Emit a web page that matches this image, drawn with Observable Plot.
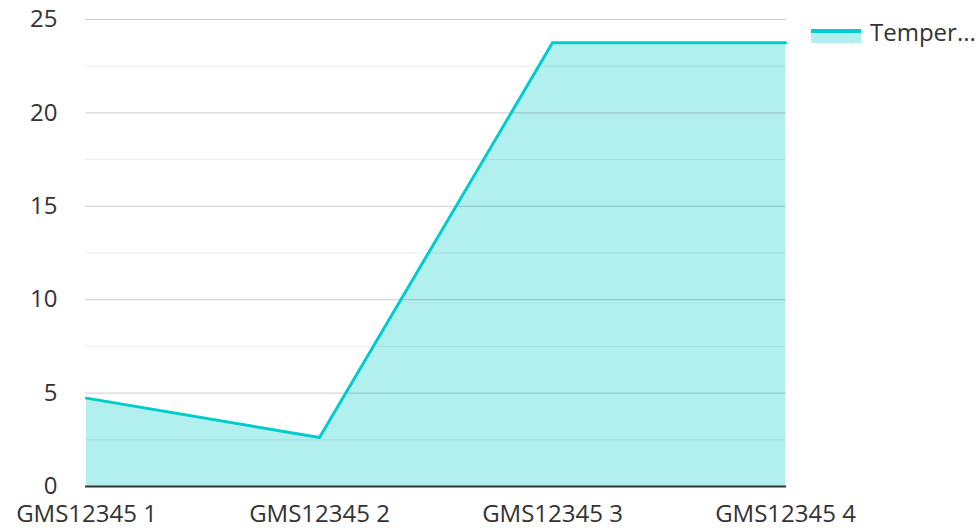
<!DOCTYPE html>
<html>
<head>
<meta charset="utf-8">
<script src="https://cdn.jsdelivr.net/npm/d3@7"></script>
<script src="https://cdn.jsdelivr.net/npm/@observablehq/plot@0.6"></script>
<style>
  html, body { margin: 0; padding: 0; background: #fff; }
  #wrap { position: relative; width: 976px; height: 528px; font-family: "Open Sans", sans-serif; }
  #legend .sw { position: absolute; left: 811px; top: 29px; width: 50px; height: 14px; background: rgba(0,204,204,0.3); }
  #legend .sw::before { content: ""; position: absolute; left: 0; right: 0; top: 0; height: 3.5px; background: #00cccc; }
  #legend .lb { position: absolute; left: 870px; top: 20px; font-size: 24px; line-height: 24px; color: #333; white-space: nowrap; }
  #chart svg text { fill: #333; }
</style>
</head>
<body>
<div id="wrap">
  <div id="chart"></div>
  <div id="legend"><div class="sw"></div><span class="lb">Temper...</span></div>
</div>
<script>
const categories = ["GMS12345 1", "GMS12345 2", "GMS12345 3", "GMS12345 4"];
const temperature = [4.73, 2.62, 23.75, 23.75];
const yTicks = [0, 5, 10, 15, 20, 25];
const majorTicks = [5, 10, 15, 20, 25];
const minorTicks = [2.5, 7.5, 12.5, 17.5, 22.5];
const seriesName = "Temperature";

const data = categories.map((c, i) => ({ cat: c, value: temperature[i] }));

const chart = Plot.plot({
  width: 976,
  height: 528,
  marginLeft: 85,
  marginRight: 190,
  marginTop: 19,
  marginBottom: 42,
  style: { fontFamily: "Open Sans, sans-serif", fontSize: "24px", color: "#333", background: "transparent" },
  x: { type: "point", domain: categories, padding: 0, label: null },
  y: { domain: [0, 25], label: null },
  marks: [
    Plot.areaY(data, { x: "cat", y: "value", fill: "#00cccc", fillOpacity: 0.3 }),
    Plot.ruleY(minorTicks, { stroke: "#000", strokeOpacity: 0.08 }),
    Plot.ruleY(majorTicks, { stroke: "#000", strokeOpacity: 0.2 }),
    Plot.lineY(data, { x: "cat", y: "value", stroke: "#00cccc", strokeWidth: 3 }),
    Plot.ruleY([0], { stroke: "#333", strokeWidth: 2 }),
    Plot.axisX({ tickSize: 0, tickPadding: 18, fontSize: 24, label: null }),
    Plot.axisY({ ticks: yTicks, tickFormat: d3.format("d"), tickSize: 0, tickPadding: 28, fontSize: 24, label: null })
  ]
});
document.getElementById("chart").appendChild(chart);
</script>
</body>
</html>
